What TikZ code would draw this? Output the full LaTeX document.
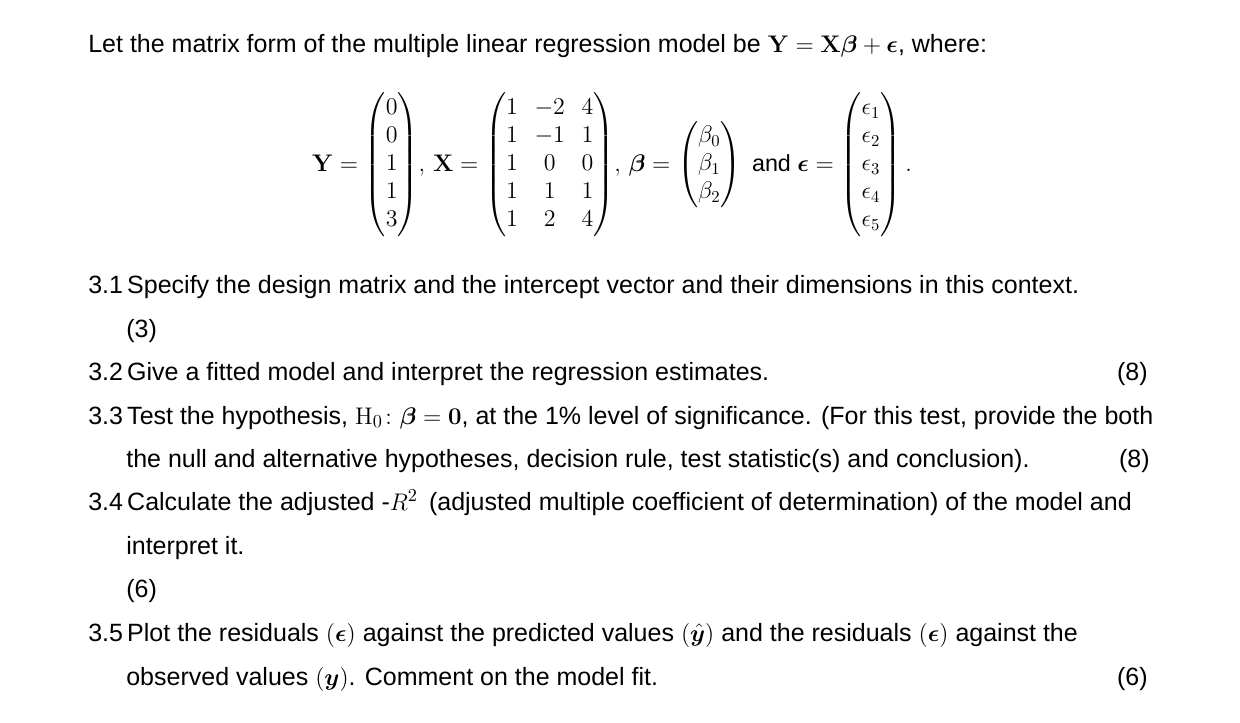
\documentclass[tikz,border=0pt]{standalone}
\usepackage{amsmath,bm}
\usepackage[no-math]{fontspec}
\setmainfont{Liberation Sans}
\begin{document}
\begin{tikzpicture}[x=0.6pt,y=-0.6pt,
  txt/.style={anchor=base west,inner sep=0pt,font=\fontsize{15}{17}\selectfont},
  mrk/.style={anchor=base east,inner sep=0pt,font=\fontsize{15}{17}\selectfont}]
\useasboundingbox (0,0) rectangle (1240,722);
\node[txt] (t0) at (88,52) {Let the matrix form of the multiple linear regression model be $\mathbf{Y}=\mathbf{X}\bm{\beta}+\bm{\epsilon}$, where:};
\node[inner sep=0pt,font=\fontsize{14}{15}\selectfont] (eq) at (612,165) {$\renewcommand{\arraystretch}{1.12}\setlength{\arraycolsep}{5pt}
\mathbf{Y}=\begin{pmatrix}0\\0\\1\\1\\3\end{pmatrix}\!,\,
\mathbf{X}=\begin{pmatrix}1&-2&4\\1&-1&1\\1&0&0\\1&1&1\\1&2&4\end{pmatrix}\!,\,
\bm{\beta}=\begin{pmatrix}\beta_0\\\beta_1\\\beta_2\end{pmatrix}\text{ and }
\bm{\epsilon}=\begin{pmatrix}\epsilon_1\\\epsilon_2\\\epsilon_3\\\epsilon_4\\\epsilon_5\end{pmatrix}.$};
\node[txt] (q1) at (88,293) {3.1\,Specify the design matrix and the intercept vector and their dimensions in this context.};
\node[txt] (m1) at (126,337) {(3)};
\node[txt] (q2) at (88,380) {3.2\,Give a fitted model and interpret the regression estimates.};
\node[mrk] (m2) at (1148,380) {(8)};
\node[txt] (q3) at (88,424) {3.3\,Test the hypothesis, $\mathrm{H}_0\colon \bm{\beta}=\mathbf{0}$, at the 1\% level of significance. (For this test, provide the both};
\node[txt] (q3b) at (126,467) {the null and alternative hypotheses, decision rule, test statistic(s) and conclusion).};
\node[mrk] (m3) at (1150,467) {(8)};
\node[txt] (q4) at (88,510) {3.4\,Calculate the adjusted -$R^2$\, (adjusted multiple coefficient of determination) of the model and};
\node[txt] (q4b) at (126,554) {interpret it.};
\node[txt] (m4) at (126,597) {(6)};
\node[txt] (q5) at (88,641) {3.5\,Plot the residuals $(\bm{\epsilon})$ against the predicted values $(\hat{\bm{y}})$ and the residuals $(\bm{\epsilon})$ against the};
\node[txt] (q5b) at (126,685) {observed values $(\bm{y})$. Comment on the model fit.};
\node[mrk] (m5) at (1148,685) {(6)};
\end{tikzpicture}
\end{document}
